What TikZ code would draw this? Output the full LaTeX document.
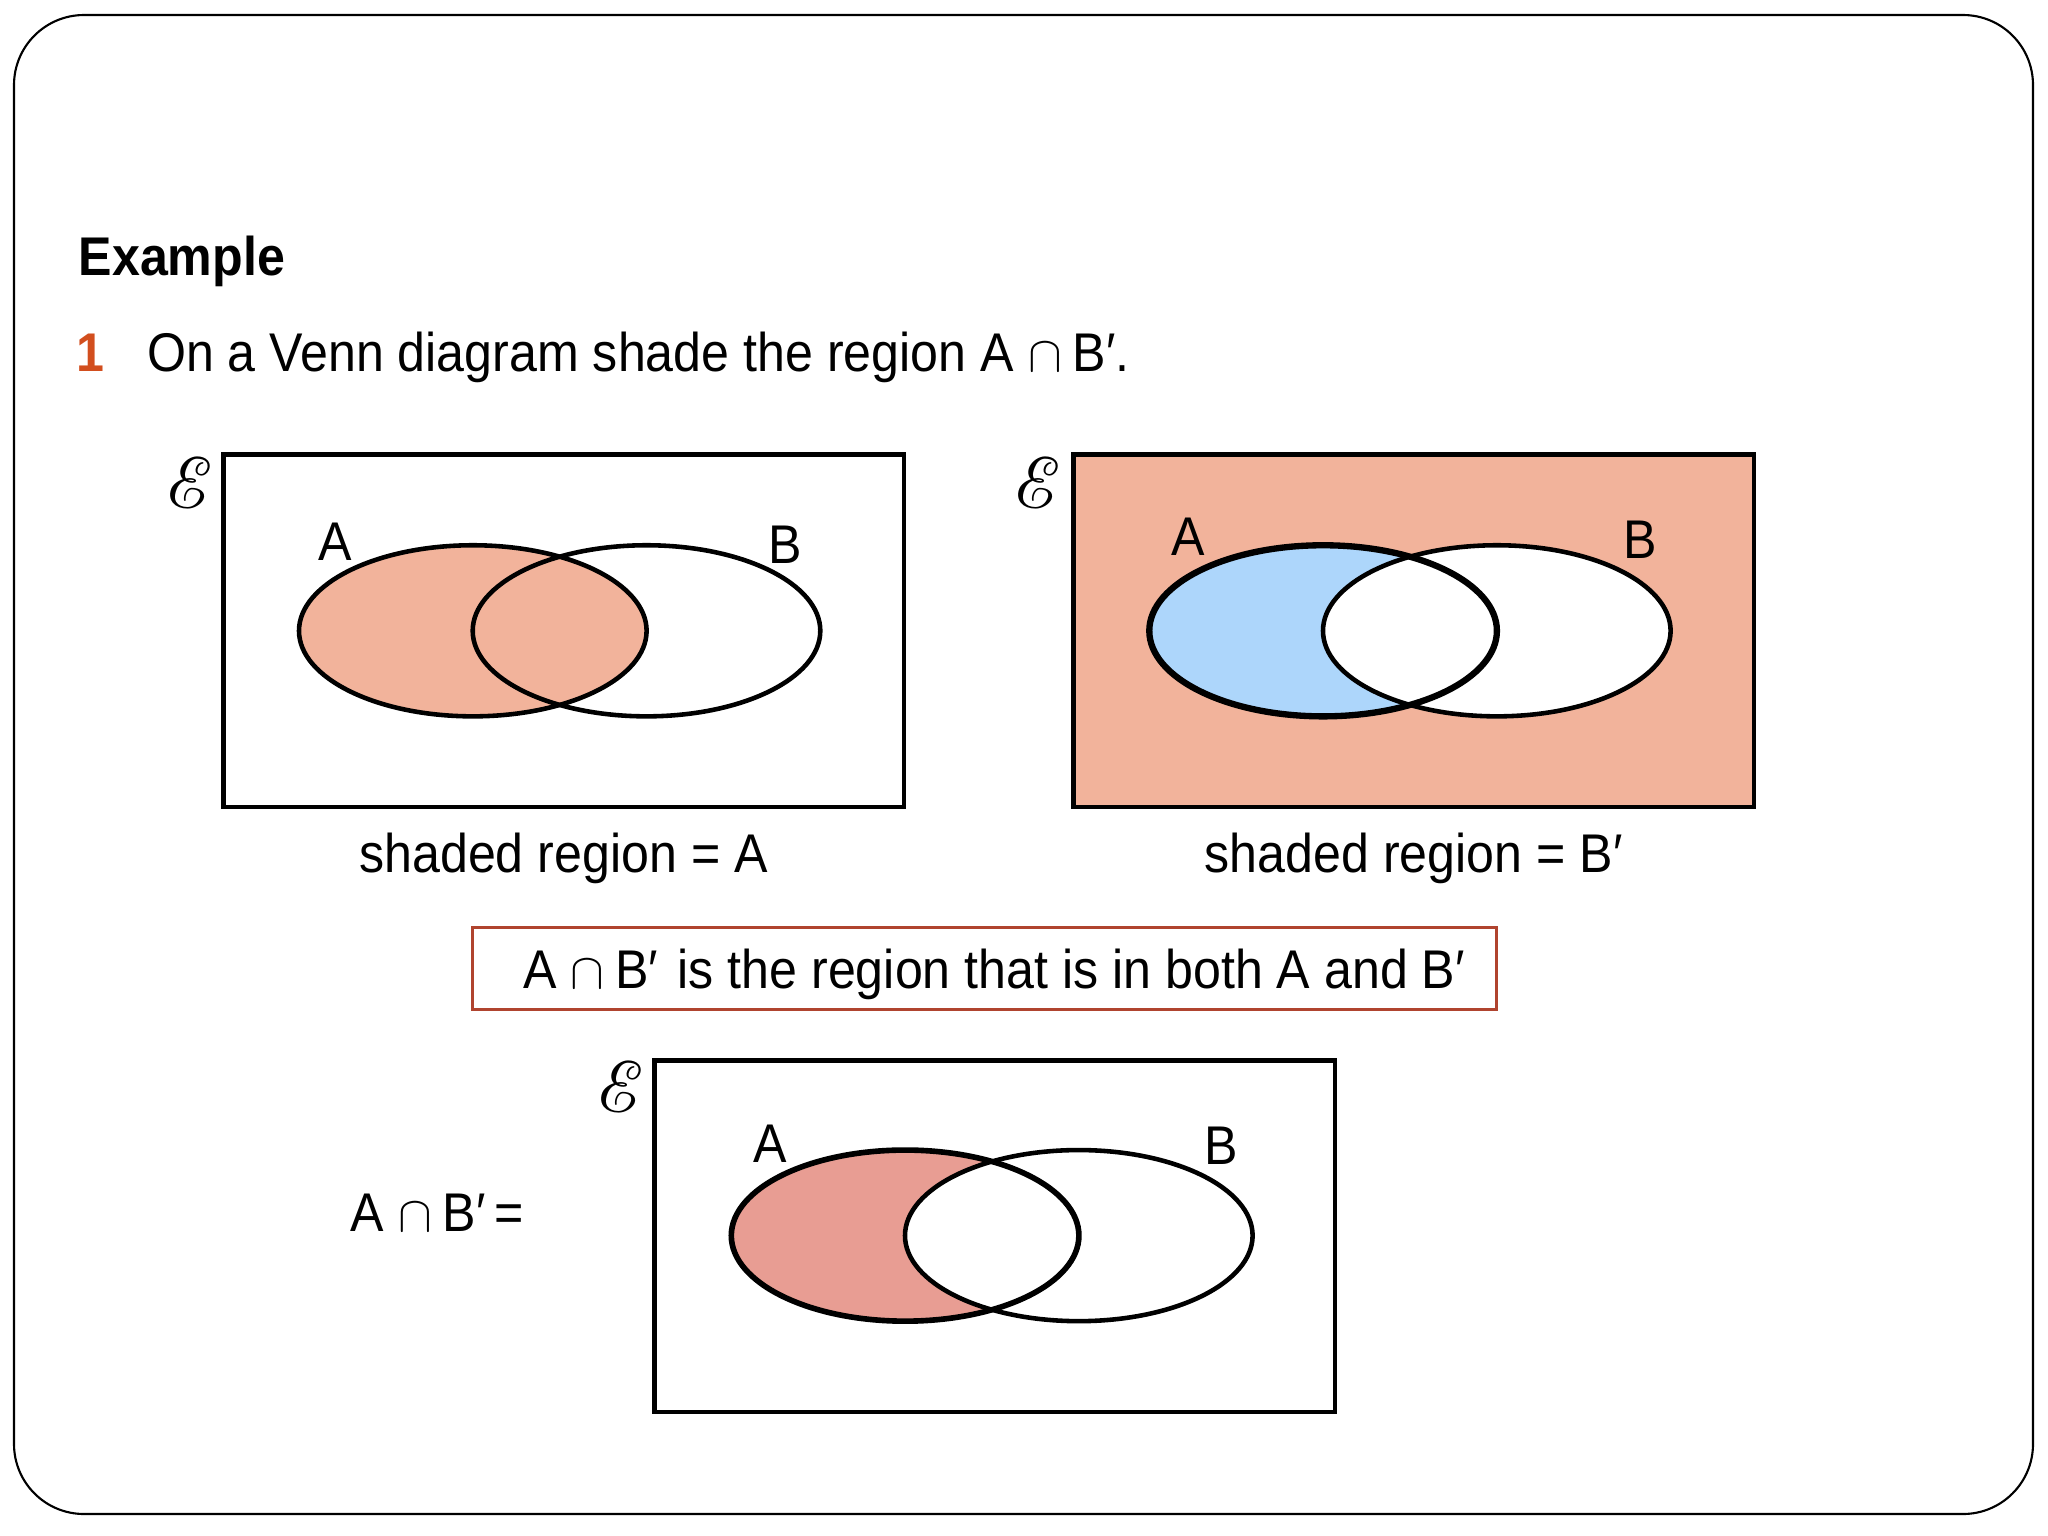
\documentclass[tikz,border=0pt]{standalone}
\usepackage{fontspec}
\usepackage{mathrsfs}
\setmainfont{Liberation Sans}[FakeStretch=0.92]
\usetikzlibrary{positioning}
\definecolor{salmon}{HTML}{F2B39B}
\definecolor{pinkred}{HTML}{E89D93}
\definecolor{lightblue}{HTML}{ADD6FB}
\definecolor{numorange}{HTML}{D24E1E}
\definecolor{boxred}{HTML}{B0442F}
\newcommand{\capx}{\hspace{0.26em}{\fontsize{14}{16}\selectfont$\cap$}\hspace{0.2em}}
\tikzset{
  txt/.style={inner sep=0pt, font=\fontsize{15.5}{18}\selectfont},
  lbl/.style={inner sep=0pt, font=\fontsize{15.5}{18}\selectfont},
  univ/.style={inner sep=0pt, font=\fontsize{20}{24}\selectfont, xslant=-0.28, transform shape},
  setline/.style={line width=1.3pt},
  boxline/.style={line width=1.3pt},
}
\newcommand{\ellA}[1]{(#1) ellipse [x radius=1.737cm, y radius=0.855cm]}
\begin{document}
\begin{tikzpicture}[x=0.01cm,y=-0.01cm]
\useasboundingbox (0,0) rectangle (2048,1536);
% outer frame
\draw[line width=0.6pt, rounded corners=0.7cm] (14,15) rectangle (2033,1514);
% heading
\node[txt, anchor=base west, font=\fontsize{15.5}{18}\selectfont\bfseries] (ex) at (78,275.6) {Example};
\node[txt, anchor=base west, text=numorange, font=\fontsize{15.5}{18}\selectfont\bfseries] (num) at (75.8,371) {1};
\node[txt, anchor=base west] (q) at (146.3,371) {On a Venn diagram shade the region A\capx B′.};
% ---------- diagram 1 ----------
\coordinate (a1) at (472.8,630.8);
\coordinate (b1) at (646.5,630.8);
\draw[boxline] (223.3,454.5) rectangle (903.8,807.2);
\fill[salmon] \ellA{a1};
\draw[setline] \ellA{a1};
\draw[setline] \ellA{b1};
\node[univ] (u1) at (190.7,483.3) {$\mathscr{E}$};
\node[lbl] (la1) at (335.7,542) {A};
\node[lbl] (lb1) at (785,544.6) {B};
\node[txt, anchor=base] (c1) at (563.6,872.5) {shaded region = A};
% ---------- diagram 2 ----------
\coordinate (a2) at (1323.1,630.8);
\coordinate (b2) at (1496.8,630.8);
\filldraw[boxline, fill=salmon] (1073.6,454.5) rectangle (1754.1,807.2);
\fill[lightblue] \ellA{a2};
\fill[white] \ellA{b2};
\draw[line width=1.8pt] \ellA{a2};
\draw[setline] \ellA{b2};
\node[univ] (u2) at (1038.4,483.3) {$\mathscr{E}$};
\node[lbl] (la2) at (1188.6,536.8) {A};
\node[lbl] (lb2) at (1640.5,539.4) {B};
\node[txt, anchor=base west] (c2) at (1204,872.5) {shaded region = B′};
% ---------- middle statement ----------
\draw[boxred, line width=0.8pt] (472.8,927.3) rectangle (1496.8,1009.6);
\node[txt, anchor=base west] (st) at (522.4,988.7) {A\capx B′\hspace{0.1em} is the region that is in both A and B′};
% ---------- diagram 3 ----------
\coordinate (a3) at (905.1,1235.6);
\coordinate (b3) at (1078.8,1235.6);
\draw[boxline] (654.4,1060.6) rectangle (1334.9,1411.9);
\fill[pinkred] \ellA{a3};
\fill[white] \ellA{b3};
\draw[line width=1.6pt] \ellA{a3};
\draw[setline] \ellA{b3};
\node[univ] (u3) at (621.7,1086.7) {$\mathscr{E}$};
\node[lbl] (la3) at (770.6,1144) {A};
\node[lbl] (lb3) at (1221.2,1145.5) {B};
\node[txt, anchor=base west] (eq) at (350,1231.6) {A\capx B′\hspace{0.15em}=};
\end{tikzpicture}
\end{document}
